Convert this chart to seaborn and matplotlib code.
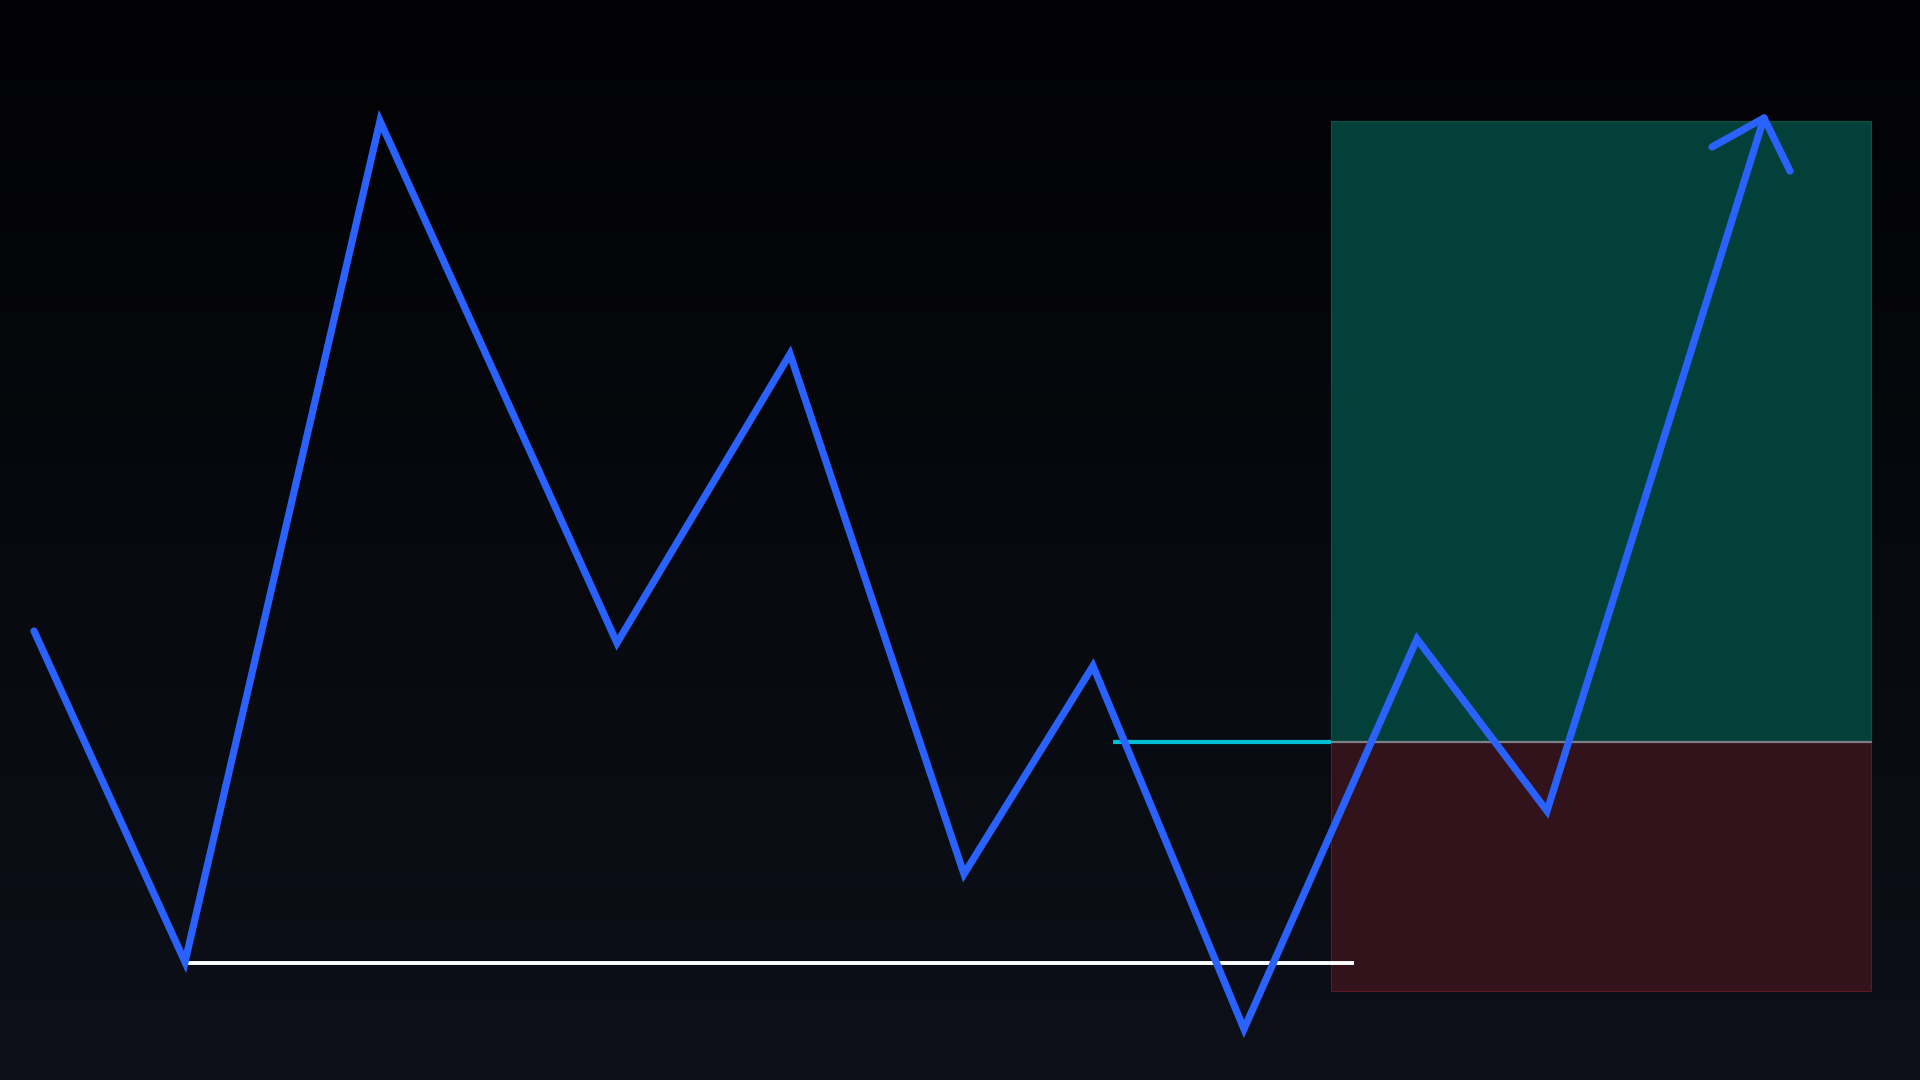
import numpy as np
import pandas as pd
import matplotlib
matplotlib.use("Agg")
import matplotlib.pyplot as plt
from matplotlib.patches import Rectangle
import seaborn as sns

# ---- data (time in px-units, price = 1080 - screen y) ----
time_pts = [34, 185, 380, 617, 790, 964, 1093, 1244, 1417, 1547, 1764]
price_pts = [449, 118, 959, 437, 726, 206, 414, 51, 441, 269, 962]

arrow_left = [1712, 933]
arrow_right = [1790, 909]

support_price = 117
support_start, support_end = 185, 1354

entry_price = 338
entry_start = 1113
target_price = 959
stop_price = 89
box_start, box_end = 1331, 1871

W, H = 1920, 1080

sns.set_theme(style="dark")
fig = plt.figure(figsize=(19.2, 10.8), dpi=100)
ax = fig.add_axes([0, 0, 1, 1])
ax.set_xlim(0, W)
ax.set_ylim(0, H)
ax.axis("off")

# background vertical gradient
top = np.array([2, 2, 4]) / 255
bot = np.array([13, 16, 25]) / 255
t = np.linspace(0, 1, 256)[:, None]
grad = top + (bot - top) * t
img = np.repeat(grad[:, None, :], 2, axis=1)
ax.imshow(img, extent=[0, W, 0, H], aspect="auto", origin="upper", zorder=0)

# target / stop zones
ax.add_patch(Rectangle((box_start, entry_price), box_end - box_start, target_price - entry_price,
                       facecolor="#04403a", edgecolor="#0a5447", lw=0.8, zorder=1))
ax.add_patch(Rectangle((box_start, stop_price), box_end - box_start, entry_price - stop_price,
                       facecolor="#33131b", edgecolor="#5c1a24", lw=0.8, zorder=1))
ax.plot([box_start, box_end], [entry_price, entry_price], color="#7d7f88", lw=1.6, zorder=2)

# support line and entry line
ax.plot([support_start, support_end], [support_price, support_price], color="white", lw=2.8,
        solid_capstyle="butt", zorder=3)
ax.plot([entry_start, box_start], [entry_price, entry_price], color="#00bcd4", lw=3.0,
        solid_capstyle="butt", zorder=3)

# main zigzag
df = pd.DataFrame({"time": time_pts, "price": price_pts})
sns.lineplot(data=df, x="time", y="price", sort=False, ax=ax, color="#2962ff", lw=5.2,
             zorder=4, solid_capstyle="round")
ax.lines[-1].set_solid_joinstyle("miter")

# arrow head
tip = [time_pts[-1], price_pts[-1]]
arrow_df = pd.DataFrame({"time": [arrow_left[0], tip[0], arrow_right[0]],
                         "price": [arrow_left[1], tip[1], arrow_right[1]]})
sns.lineplot(data=arrow_df, x="time", y="price", sort=False, ax=ax, color="#2962ff", lw=5.2,
             zorder=4, solid_capstyle="round")

ax.set_xlim(0, W)
ax.set_ylim(0, H)
ax.set_xlabel("")
ax.set_ylabel("")
fig.savefig("out.png", dpi=100)
